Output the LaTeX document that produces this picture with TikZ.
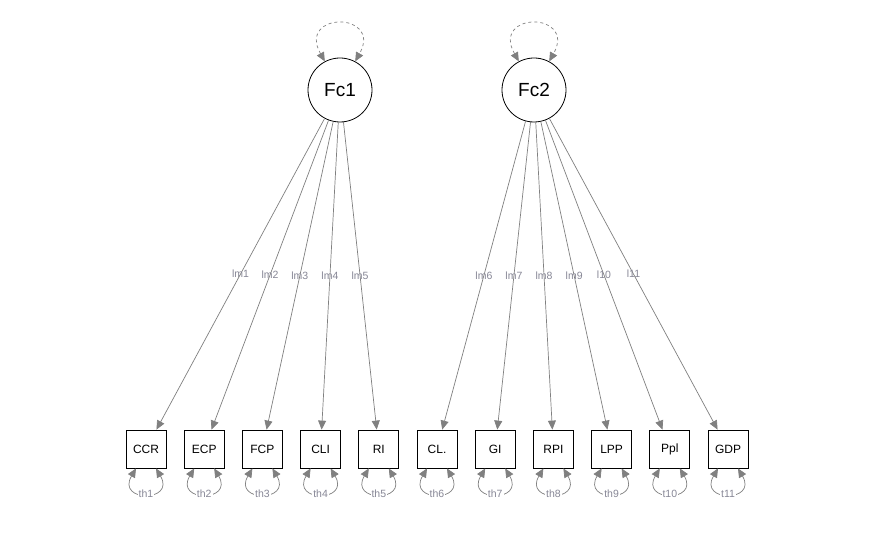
\documentclass[tikz,border=0pt]{standalone}
\usepackage{fontspec}
\setmainfont{Liberation Sans}
\usetikzlibrary{arrows.meta}
\definecolor{edgegray}{RGB}{128,128,128}
\definecolor{labgray}{RGB}{135,135,150}
\tikzset{
  latent/.style={draw=black, line width=0.8pt, circle, minimum size=64pt, inner sep=0pt, font=\fontsize{19}{19}\selectfont},
  manifest/.style={draw=black, line width=0.8pt, rectangle, minimum width=40pt, minimum height=38pt, inner sep=0pt, font=\fontsize{12}{12}\selectfont},
  load/.style={draw=edgegray, line width=0.7pt, -{Triangle[length=9pt,width=8pt]}, fill=none},
  looparr/.style={draw=edgegray, line width=0.7pt, {Triangle[length=9pt,width=8pt,fill=edgegray]}-{Triangle[length=9pt,width=8pt,fill=edgegray]}},
  elab/.style={text=labgray, font=\fontsize{10.5}{10.5}\selectfont, inner sep=1pt},
  rlab/.style={text=labgray, font=\fontsize{10.5}{10.5}\selectfont, fill=white, inner sep=1pt}
}
\begin{document}
\begin{tikzpicture}[x=1pt,y=-1pt]
\useasboundingbox[fill=white] (0,0) rectangle (875,540);
% latent nodes
\node[latent] (Fc1) at (340,90) {Fc1};
\node[latent] (Fc2) at (534,90) {Fc2};
% manifest nodes
\node[manifest] (CCR) at (146,449) {CCR};
\node[manifest] (ECP) at (204.2,449) {ECP};
\node[manifest] (FCP) at (262.4,449) {FCP};
\node[manifest] (CLI) at (320.6,449) {CLI};
\node[manifest] (RI)  at (378.8,449) {RI};
\node[manifest] (CL)  at (437,449) {CL.};
\node[manifest] (GI)  at (495.2,449) {GI};
\node[manifest] (RPI) at (553.4,449) {RPI};
\node[manifest] (LPP) at (611.6,449) {LPP};
\node[manifest] (Ppl) at (669.8,449) {Ppl};
\node[manifest] (GDP) at (728,449) {GDP};
% self loops of latents
\draw[looparr, dashed] (Fc1.118) .. controls +(-28,-50) and +(28,-50) .. (Fc1.62);
\draw[looparr, dashed] (Fc2.118) .. controls +(-28,-50) and +(28,-50) .. (Fc2.62);
% loadings
\draw[load] (Fc1) -- (CCR) node[elab, pos=0.5] {lm1};
\draw[load] (Fc1) -- (ECP) node[elab, pos=0.5] {lm2};
\draw[load] (Fc1) -- (FCP) node[elab, pos=0.5] {lm3};
\draw[load] (Fc1) -- (CLI) node[elab, pos=0.5] {lm4};
\draw[load] (Fc1) -- (RI)  node[elab, pos=0.5] {lm5};
\draw[load] (Fc2) -- (CL)  node[elab, pos=0.5] {lm6};
\draw[load] (Fc2) -- (GI)  node[elab, pos=0.5] {lm7};
\draw[load] (Fc2) -- (RPI) node[elab, pos=0.5] {lm8};
\draw[load] (Fc2) -- (LPP) node[elab, pos=0.5] {lm9};
\draw[load] (Fc2) -- (Ppl) node[elab, pos=0.5] {l10};
\draw[load] (Fc2) -- (GDP) node[elab, pos=0.5] {l11};
% residual loops
\foreach \n/\t in {CCR/th1, ECP/th2, FCP/th3, CLI/th4, RI/th5, CL/th6, GI/th7, RPI/th8, LPP/th9, Ppl/t10, GDP/t11}{
  \draw[looparr] ([xshift=-10pt]\n.south) .. controls +(-20,34) and +(20,34) .. ([xshift=10pt]\n.south)
    node[rlab, pos=0.5] {\t};
}
\end{tikzpicture}
\end{document}
